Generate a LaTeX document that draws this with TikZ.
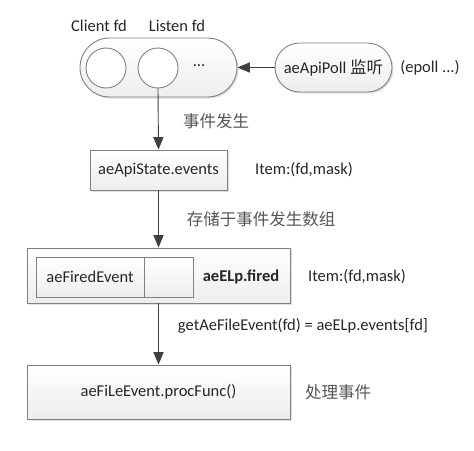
\documentclass[tikz,border=0pt]{standalone}
\usepackage{fontspec}
\setmainfont{Carlito}
\newfontfamily\cjk{Noto Sans CJK SC}
\usetikzlibrary{arrows.meta,shadows}
\tikzset{>={Triangle[width=3.6mm,length=4.4mm]}}
\definecolor{edgegray}{HTML}{808080}
\definecolor{arrowgray}{HTML}{404040}
\definecolor{textgray}{HTML}{555555}

\begin{document}
\begin{tikzpicture}[x=1pt,y=-1pt,font=\fontsize{16.5}{19}\selectfont]
\tikzstyle{box}=[draw=edgegray,line width=0.9pt,top color=white,bottom color=gray!14,
  drop shadow={shadow xshift=1.5pt,shadow yshift=-1.5pt,opacity=0.25},inner sep=0]
\tikzstyle{cell}=[draw=edgegray,line width=0.9pt,top color=white,bottom color=gray!14,inner sep=0]
\tikzstyle{fd}=[circle,draw=edgegray,line width=0.9pt,fill=white,minimum size=40pt,inner sep=0]
\tikzstyle{zh}=[font=\fontsize{16.5}{19}\selectfont\cjk,text=textgray]
\tikzstyle{t}=[text=black!85]
\tikzstyle{a}=[->,draw=arrowgray,line width=0.9pt]
    \useasboundingbox (0,0) rectangle (474,450);

    % fd set and poller
    \node[box, rounded corners=29.5pt, minimum width=157pt, minimum height=59pt] (fds) at (158.5,67.5){};
    \node[fd] (c1) at (106,68){};
    \node[fd] (c2) at (158,68){};
    \node[t] (dots) at (199,66){...};
    \node[t] (l1) at (99,26){Client fd};
    \node[t] (l2) at (177,26){Listen fd};
    \node[box, rounded corners=24.5pt, minimum width=117pt, minimum height=49pt, t] (poll) at (333.5,67.5){aeApiPoll {\cjk 监听}};
    \node[t] (ep) at (430,68){(epoll ...)};

    % event arrays
    \node[box, minimum width=137pt, minimum height=40pt, t] (state) at (158.5,170){aeApiState.events};
    \node[t] (item1) at (304,170){Item:(fd,mask)};
    \node[box, minimum width=263pt, minimum height=55pt] (fired) at (158.5,275.5){};
    \node[cell, minimum width=108pt, minimum height=40pt, t] (fe) at (90,277){aeFiredEvent};
    \node[cell, minimum width=49pt, minimum height=40pt] (fe2) at (168.5,277){};
    \node[t, font=\fontsize{16.5}{19}\selectfont\bfseries] (fname) at (241,277){aeELp.fired};
    \node[t] (item2) at (357,277){Item:(fd,mask)};
    \node[box, minimum width=263pt, minimum height=54pt, t] (proc) at (158.5,392){aeFiLeEvent.procFunc()};
    \node[zh] (handle) at (338,392){处理事件};

    % edge labels
    \node[zh] (e1) at (216,121){事件发生};
    \node[zh] (e2) at (261,219){存储于事件发生数组};
    \node[t] (e3) at (303,326){getAeFileEvent(fd) = aeELp.events[fd]};

    \draw[a] (poll.west) -- (fds.east);
    \draw[a] (c2.south) -- (state.north);
    \draw[a] (state.south) -- (fired.north);
    \draw[a] (fired.south) -- (proc.north);

\end{tikzpicture}
\end{document}
